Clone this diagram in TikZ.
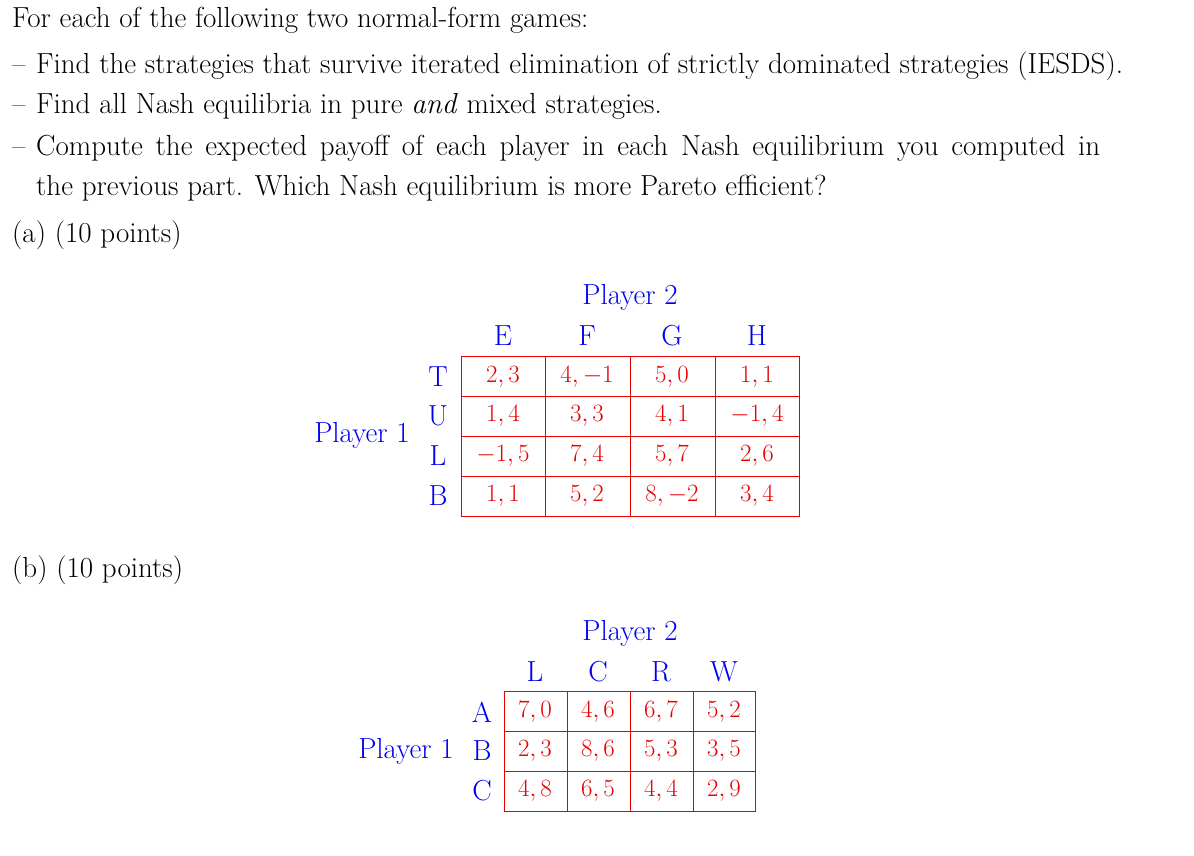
\documentclass[tikz,border=0pt]{standalone}
\usepackage{amsmath}
\definecolor{pblue}{RGB}{0,0,240}
\definecolor{pred}{RGB}{230,0,0}
\begin{document}
\begin{tikzpicture}[x=1pt,y=-1pt,
  txt/.style={anchor=base west,inner sep=0pt,font=\fontsize{29}{34}\selectfont},
  lab/.style={inner sep=0pt,font=\fontsize{29}{34}\selectfont,text=pblue},
  pay/.style={inner sep=0pt,font=\fontsize{26.5}{32}\selectfont,text=pred},
  grid/.style={draw=pred,line width=0.9pt}]
\useasboundingbox (0,0) rectangle (1194,855);
\node[txt] (l0) at (12,27) {For each of the following two normal-form games:};
\node[txt] (d1) at (12,73) {--};
\node[txt] (l1) at (36,73) {Find the strategies that survive iterated elimination of strictly dominated strategies (IESDS).};
\node[txt] (d2) at (12,113) {--};
\node[txt] (l2) at (36,113) {Find all Nash equilibria in pure \textit{and} mixed strategies.};
\node[txt] (d3) at (12,155) {--};
\node[txt] (l3) at (36,155) {\makebox[1064pt][s]{Compute the expected payoff of each player in each Nash equilibrium you computed in}};
\node[txt] (l4) at (36,195) {the previous part. Which Nash equilibrium is more Pareto efficient?};
\node[txt] (a) at (12,242) {(a) (10 points)};
\node[txt] (b) at (12,577) {(b) (10 points)};
% table a
\draw[grid] (461,356) rectangle (799,516);
\foreach \x in {545,630,715} \draw[grid] (\x,356) -- (\x,516);
\foreach \y in {396,436,476} \draw[grid] (461,\y) -- (799,\y);
\node[lab] (p2a) at (630,297) {Player 2};
\node[lab] (p1a) at (362,435) {Player 1};
\foreach \n/\x in {E/503,F/587,G/672,H/757} \node[lab] (ca\n) at (\x,336) {\n};
\foreach \n/\y in {T/377,U/416,L/456,B/496} \node[lab] (ra\n) at (438,\y) {\n};
\foreach \y/\a/\b/\c/\d in {377/{2,3}/{4,-1}/{5,0}/{1,1},416/{1,4}/{3,3}/{4,1}/{-1,4},456/{-1,5}/{7,4}/{5,7}/{2,6},496/{1,1}/{5,2}/{8,-2}/{3,4}}{
  \node[pay] at (503,\y) {$\a$};
  \node[pay] at (587,\y) {$\b$};
  \node[pay] at (672,\y) {$\c$};
  \node[pay] at (757,\y) {$\d$};
}
% table b
\draw[grid] (504,691) rectangle (755,811);
\foreach \x in {567,630,693} \draw[grid] (\x,691) -- (\x,811);
\foreach \y in {731,771} \draw[grid] (504,\y) -- (755,\y);
\node[lab] (p2b) at (630,633) {Player 2};
\node[lab] (p1b) at (406,751) {Player 1};
\foreach \n/\x in {L/535,C/598,R/661,W/724} \node[lab] (cb\n) at (\x,672) {\n};
\foreach \n/\y in {A/712,B/751,C/791} \node[lab] (rb\n) at (482,\y) {\n};
\foreach \y/\a/\b/\c/\d in {712/{7,0}/{4,6}/{6,7}/{5,2},751/{2,3}/{8,6}/{5,3}/{3,5},791/{4,8}/{6,5}/{4,4}/{2,9}}{
  \node[pay] at (535,\y) {$\a$};
  \node[pay] at (598,\y) {$\b$};
  \node[pay] at (661,\y) {$\c$};
  \node[pay] at (724,\y) {$\d$};
}
\end{tikzpicture}
\end{document}
